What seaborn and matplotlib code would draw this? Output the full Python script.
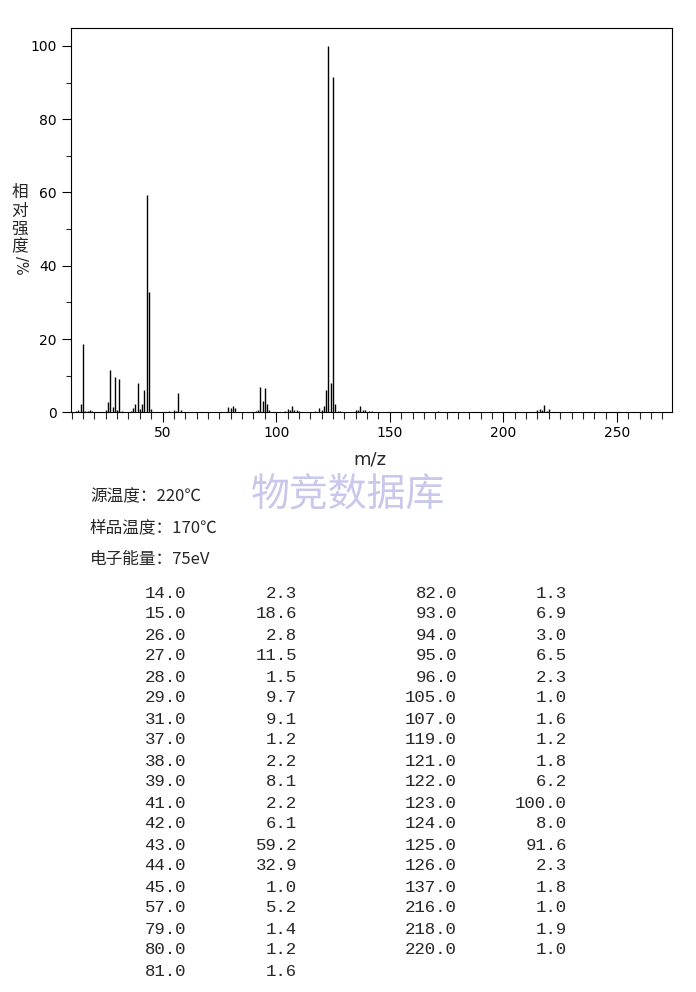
import numpy as np
import matplotlib
matplotlib.use("Agg")
import matplotlib.pyplot as plt
from matplotlib.ticker import FixedLocator, MultipleLocator
import seaborn as sns

# peaks listed in the table (m/z, relative intensity %)
mz_table = [14.0, 15.0, 26.0, 27.0, 28.0, 29.0, 31.0, 37.0, 38.0, 39.0, 41.0, 42.0,
            43.0, 44.0, 45.0, 57.0, 79.0, 80.0, 81.0, 82.0, 93.0, 94.0, 95.0, 96.0,
            105.0, 107.0, 119.0, 121.0, 122.0, 123.0, 124.0, 125.0, 126.0, 137.0,
            216.0, 218.0, 220.0]
int_table = [2.3, 18.6, 2.8, 11.5, 1.5, 9.7, 9.1, 1.2, 2.2, 8.1, 2.2, 6.1,
             59.2, 32.9, 1.0, 5.2, 1.4, 1.2, 1.6, 1.3, 6.9, 3.0, 6.5, 2.3,
             1.0, 1.6, 1.2, 1.8, 6.2, 100.0, 8.0, 91.6, 2.3, 1.8,
             1.0, 1.9, 1.0]

# small peaks seen in the spectrum but not listed
mz_small = [12, 13, 16, 17, 18, 19, 25, 30, 32, 36, 40, 53, 55, 56, 58, 61,
            83, 87, 91, 92, 97, 104, 106, 108, 109, 110, 111, 117, 120, 127, 128,
            135, 136, 138, 139, 141, 142, 171, 215, 217, 219, 264, 266]
int_small = [0.4, 0.5, 0.3, 0.3, 0.7, 0.3, 0.5, 0.6, 0.4, 0.4, 0.9, 0.3, 0.7, 0.3, 0.7, 0.2,
             0.2, 0.2, 0.3, 0.7, 0.6, 0.3, 0.7, 0.7, 0.7, 0.3, 0.2, 0.3, 0.5, 0.3, 0.3,
             0.7, 0.5, 0.5, 0.7, 0.3, 0.3, 0.4, 0.5, 0.5, 0.3, 0.2, 0.2]

info_lines = ["源温度：220℃", "样品温度：170℃", "电子能量：75eV"]
watermark = "物竞数据库"

sns.set_theme(style="ticks")
plt.rcParams['font.family'] = ['DejaVu Sans', 'Noto Sans CJK SC']

W, H = 696, 992
fig = plt.figure(figsize=(W / 100, H / 100), dpi=100)


def fx(x):
    return x / W


def fy(y):
    return 1 - y / H


ax = fig.add_axes([fx(71), fy(412.3), fx(672 - 71), (412.3 - 28.3) / H])

all_mz = np.array(mz_table + mz_small)
all_int = np.array(int_table + int_small)
ax.vlines(all_mz, 0, all_int, color="black", linewidth=1.0)

ax.set_xlim(9.7, 274.2)
ax.set_ylim(0, 104.8)
ax.xaxis.set_major_locator(FixedLocator([50, 100, 150, 200, 250]))
ax.xaxis.set_minor_locator(FixedLocator(np.arange(10, 271, 5)))
ax.yaxis.set_major_locator(MultipleLocator(20))
ax.yaxis.set_minor_locator(MultipleLocator(10))
ax.tick_params(axis="x", which="major", length=7, width=0.8, pad=3, labelsize=10, colors="black")
ax.tick_params(axis="x", which="minor", length=5, width=0.8)
ax.tick_params(axis="y", which="major", length=6.5, width=0.8, pad=4, labelsize=10, colors="black")
ax.tick_params(axis="y", which="minor", length=3.5, width=0.8)
for s in ax.spines.values():
    s.set_linewidth(0.8)
    s.set_color("black")
ax.grid(False)
ax.set_facecolor("white")

# axis labels
cjk = ['Noto Sans CJK SC', 'DejaVu Sans']
for ch, yy in zip("相对强度", [192, 211, 229, 247]):
    fig.text(fx(20), fy(yy), ch, ha="center", va="center", fontsize=12, family=cjk)
fig.text(fx(20), fy(265), "/%", ha="center", va="center", fontsize=10.5, rotation=-90)
fig.text(fx(370), fy(460), "m/z", ha="center", va="center", fontsize=13)

# watermark and instrument info
fig.text(fx(348), fy(496), watermark, ha="center", va="center", fontsize=28,
         color="#c8c8ec", family=cjk)
for i, line in enumerate(info_lines):
    fig.text(fx(90), fy(497 + 31 * i), line, ha="left", va="center", fontsize=12, family=cjk)

# peak table
mono = ['Liberation Mono', 'DejaVu Sans Mono']
n_left = 19
for i, (m, v) in enumerate(zip(mz_table, int_table)):
    col = 0 if i < n_left else 1
    row = i if i < n_left else i - n_left
    yy = 593 + row * 21.0
    x_mz = 186 if col == 0 else 457
    x_int = 297 if col == 0 else 567
    fig.text(fx(x_mz), fy(yy), f"{m:.1f}", ha="right", va="center", fontsize=12.5, family=mono)
    fig.text(fx(x_int), fy(yy), f"{v:.1f}", ha="right", va="center", fontsize=12.5, family=mono)

fig.savefig("out.png", dpi=100, facecolor="white")
